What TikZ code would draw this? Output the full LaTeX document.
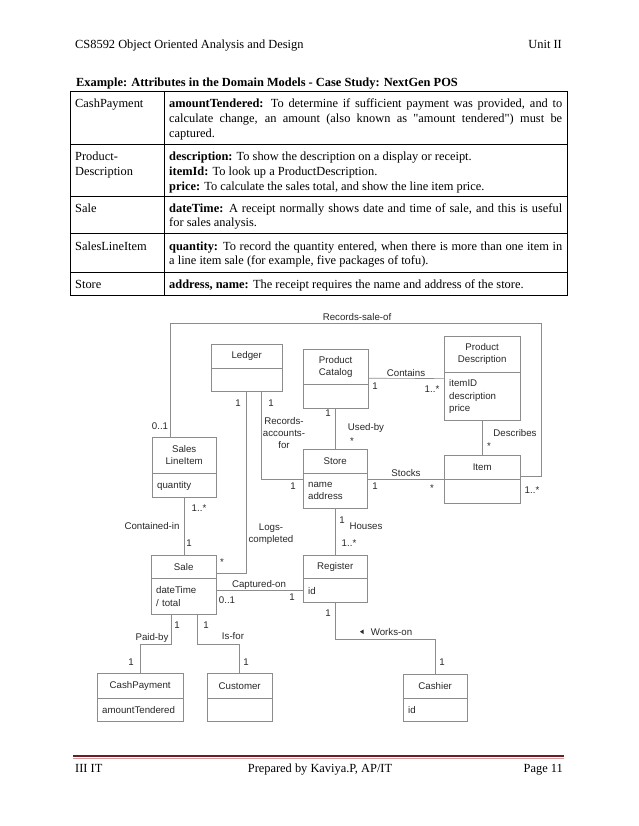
\documentclass[tikz,border=0pt]{standalone}
\usepackage{fontspec}
\setmainfont{Liberation Serif}
\newfontfamily\umlfont{Liberation Sans}
\newfontfamily\plainserif{Liberation Serif}
\usetikzlibrary{positioning}
\definecolor{linegray}{RGB}{140,140,140}
\definecolor{umltext}{RGB}{40,40,40}
\definecolor{footred}{RGB}{115,25,35}
\definecolor{footpink}{RGB}{205,160,160}
\newcommand{\docsize}{\fontsize{12.4}{14.6}\selectfont}
\newcommand{\umlsmall}{\umlfont\fontsize{9.7}{12}\selectfont}
\newcommand{\umlattr}{\umlfont\fontsize{9.7}{12.5}\selectfont}
\newcommand{\dquote}{{\plainserif"}}
\tikzstyle{doctext} = [inner sep=0pt, anchor=base west, font=\docsize]
\tikzstyle{celltext} = [doctext, text width=393pt, align=justify]
\tikzstyle{tableline} = [line width=0.8pt, black]
\tikzstyle{classname} = [draw=linegray, rectangle, anchor=north west, align=center, inner sep=1pt, text=umltext, font=\umlsmall]
\tikzstyle{classattr} = [draw=linegray, rectangle, align=left, inner xsep=5pt, inner ysep=1pt, text=umltext, font=\umlattr]
\tikzstyle{assoc} = [draw=linegray, line width=0.6pt]
\tikzstyle{role} = [inner sep=0pt, align=center, text=umltext, font=\umlsmall]

\begin{document}
\begin{tikzpicture}[x=1pt, y=-1pt]
    \useasboundingbox[fill=white] (0,0) rectangle (638,826);
    % Page header
    \node[doctext] (head) at (75,49) {CS8592 Object Oriented Analysis and Design};
    \node[doctext, anchor=base east] (unit) at (562,49) {Unit II};
    \node[doctext] (title) at (76,87) {\textbf{Example: Attributes in the Domain Models - Case Study: NextGen POS}};
    % Attribute table
    \draw[tableline] (70,91) rectangle (567,295);
    \draw[tableline] (164,91) -- (164,295);
    \foreach \y in {144,196,233,272}
        \draw[tableline] (70,\y) -- (567,\y);
    \node[doctext] (rowpay) at (75,108) {CashPayment};
    \node[celltext] (rowpaytext) at (169,108) {\textbf{amountTendered:} To determine if sufficient payment was provided, and to\linebreak calculate change, an amount (also known as \dquote amount tendered\dquote) must be\linebreak captured.};
    \node[doctext, text width=85pt, align=left] (rowdesc) at (75,161) {Product-\\Description};
    \node[celltext] (rowdesctext) at (169,161) {\textbf{description:} To show the description on a display or receipt.\\\textbf{itemId:} To look up a ProductDescription.\\\textbf{price:} To calculate the sales total, and show the line item price.};
    \node[doctext] (rowsale) at (75,212) {Sale};
    \node[celltext] (rowsaletext) at (169,212) {\textbf{dateTime:} A receipt normally shows date and time of sale, and this is useful\linebreak for sales analysis.};
    \node[doctext] (rowline) at (75,250) {SalesLineItem};
    \node[celltext] (rowlinetext) at (169,250) {\textbf{quantity:} To record the quantity entered, when there is more than one item in\linebreak a line item sale (for example, five packages of tofu).};
    \node[doctext] (rowstore) at (75,288) {Store};
    \node[celltext] (rowstoretext) at (169,288) {\textbf{address, name:} The receipt requires the name and address of the store.};

    % Define the classes
    \node[classname, minimum width=71pt, minimum height=24pt] (ledger) at (211,344) {Ledger};
    \node[classattr, text width=61pt, minimum height=23pt, below=0pt of ledger] (ledgerattr) {};
    \node[classname, minimum width=65pt, minimum height=35pt] (catalog) at (303,349) {Product\\Catalog};
    \node[classattr, text width=55pt, minimum height=24pt, below=0pt of catalog] (catalogattr) {};
    \node[classname, minimum width=76pt, minimum height=36pt] (proddesc) at (444,336) {Product\\Description};
    \node[classattr, text width=66pt, minimum height=48pt, below=0pt of proddesc] (proddescattr) {itemID\\description\\price};
    \node[classname, minimum width=64pt, minimum height=36pt] (lineitem) at (152,437) {Sales\\LineItem};
    \node[classattr, text width=54pt, minimum height=24pt, below=0pt of lineitem] (lineitemattr) {quantity};
    \node[classname, minimum width=64pt, minimum height=24pt] (store) at (303,449) {Store};
    \node[classattr, text width=54pt, minimum height=35pt, below=0pt of store] (storeattr) {name\\address};
    \node[classname, minimum width=76pt, minimum height=24pt] (item) at (444,455) {Item};
    \node[classattr, text width=66pt, minimum height=24pt, below=0pt of item] (itemattr) {};
    \node[classname, minimum width=65pt, minimum height=23pt] (sale) at (151,555) {Sale};
    \node[classattr, text width=55pt, minimum height=36pt, below=0pt of sale] (saleattr) {dateTime\\/ total};
    \node[classname, minimum width=64pt, minimum height=23pt] (register) at (303,555) {Register};
    \node[classattr, text width=54pt, minimum height=24pt, below=0pt of register] (registerattr) {id};
    \node[classname, minimum width=86pt, minimum height=25pt] (cashpay) at (97,673) {CashPayment};
    \node[classattr, text width=76pt, minimum height=23pt, below=0pt of cashpay] (cashpayattr) {amountTendered};
    \node[classname, minimum width=65pt, minimum height=25pt] (customer) at (207,673) {Customer};
    \node[classattr, text width=55pt, minimum height=23pt, below=0pt of customer] (customerattr) {};
    \node[classname, minimum width=64pt, minimum height=24pt] (cashier) at (403,674) {Cashier};
    \node[classattr, text width=54pt, minimum height=23pt, below=0pt of cashier] (cashierattr) {id};

    % Connect the classes
    \draw[assoc] ([xshift=-14pt]lineitem.north) -- ++(0,-114) -| ([xshift=21pt,yshift=3pt]item.south east) -- ([yshift=3pt]item.south east);
    \draw[assoc] ([yshift=-11.5pt]catalog.east) -- ([yshift=18pt]proddescattr.west);
    \draw[assoc] (catalogattr.south) -- (catalogattr.south |- store.north);
    \draw[assoc] (proddescattr.south) -- (item.north);
    \draw[assoc] (storeattr.east |- item.south) -- (item.south west);
    \draw[assoc] ([xshift=15pt]ledgerattr.south) |- ([yshift=11.5pt]storeattr.west);
    \draw[assoc] (ledgerattr.south) |- ([yshift=-6.5pt]sale.east);
    \draw[assoc] (lineitemattr.south) -- (lineitemattr.south |- sale.north);
    \draw[assoc] (saleattr.east |- registerattr.west) -- (registerattr.west);
    \draw[assoc] (storeattr.south) -- (register.north);
    \draw[assoc] ([xshift=-12.5pt]saleattr.south) -- ++(0,29) -| (cashpay.north);
    \draw[assoc] ([xshift=14pt]saleattr.south) -- ++(0,29) -| (customer.north);
    \draw[assoc] (registerattr.south) -- ++(0,36) -| (cashier.north);

    % Association names and multiplicities
    \node[role] (rsname) at (357,317) {Records-sale-of};
    \node[role] (rsline) at (160,426) {0..1};
    \node[role] (rsitem) at (532,490) {1..*};
    \node[role] (ctname) at (406,373) {Contains};
    \node[role] (ctcat) at (375,386) {1};
    \node[role] (ctdesc) at (432,389) {1..*};
    \node[role] (ubname) at (366,428) {Used-by};
    \node[role] (ubcat) at (328,413) {1};
    \node[role] (ubstore) at (352,441) {*};
    \node[role] (dsname) at (515,433) {Describes};
    \node[role] (dsitem) at (489,446) {*};
    \node[role] (stname) at (406,473) {Stocks};
    \node[role] (ststore) at (375,486) {1};
    \node[role] (stitem) at (432,488) {*};
    \node[role] (raname) at (284,433) {Records-\\accounts-\\for};
    \node[role] (raledger) at (271,403) {1};
    \node[role] (rastore) at (293,486) {1};
    \node[role] (lcname) at (271,534) {Logs-\\completed};
    \node[role] (lcledger) at (238,403) {1};
    \node[role] (lcsale) at (222,562) {*};
    \node[role] (ciname) at (152,526) {Contained-in};
    \node[role] (ciline) at (199,508) {1..*};
    \node[role] (cisale) at (189,543) {1};
    \node[role] (hsname) at (366,526) {Houses};
    \node[role] (hsstore) at (342,520) {1};
    \node[role] (hsreg) at (349,543) {1..*};
    \node[role] (coname) at (259,585) {Captured-on};
    \node[role] (cosale) at (227,600) {0..1};
    \node[role] (coreg) at (292,597) {1};
    \node[role] (pbname) at (152,638) {Paid-by};
    \node[role] (pbsale) at (177,625) {1};
    \node[role] (pbcash) at (131,662) {1};
    \node[role] (ifname) at (233,636) {Is-for};
    \node[role] (ifsale) at (206,625) {1};
    \node[role] (ifcust) at (246,662) {1};
    \node[role] (woname) at (391.5,632.5) {Works-on};
    \node[role] (woreg) at (328,613) {1};
    \node[role] (wocash) at (442,662) {1};
    \fill[umltext] (363.5,629.5) -- (363.5,634) -- (360,631.7) -- cycle;

    % Page footer
    \draw[line width=2.4pt, footred] (73,756) -- (564,756);
    \draw[line width=1pt, footpink] (73,758) -- (564,758);
    \node[doctext] (footleft) at (75,772) {III IT};
    \node[doctext, anchor=base] (footmid) at (320,772) {Prepared by Kaviya.P, AP/IT};
    \node[doctext, anchor=base east] (footright) at (563,772) {Page 11};
\end{tikzpicture}
\end{document}
